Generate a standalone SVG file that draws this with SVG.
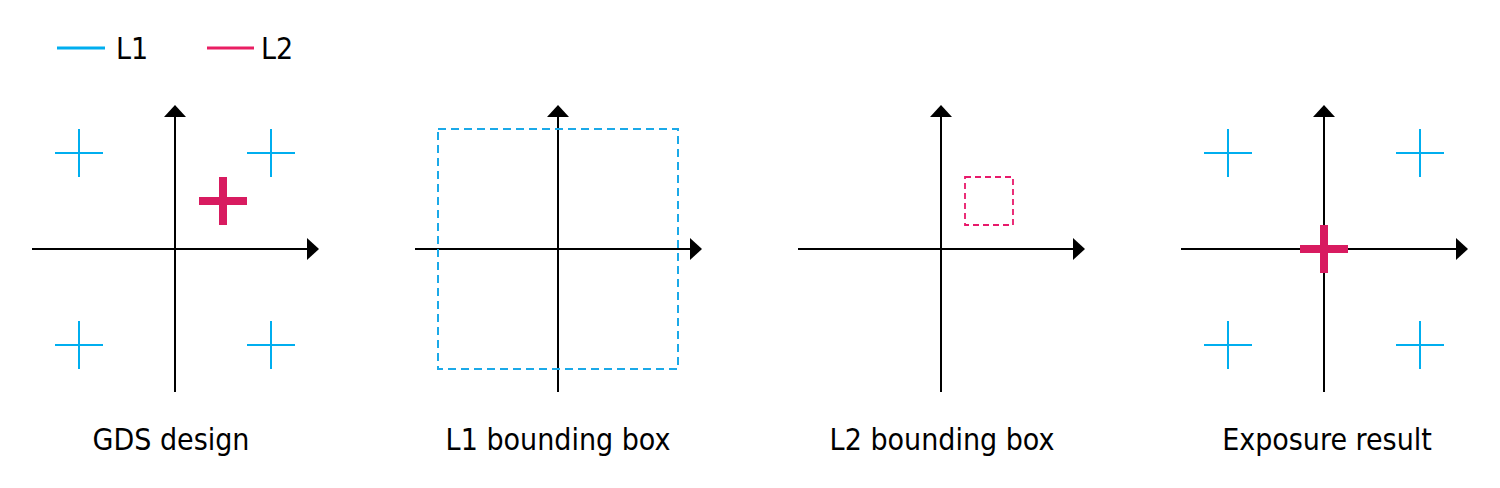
<svg xmlns="http://www.w3.org/2000/svg" width="1500" height="488" viewBox="0 0 1500 488">
<style>
.axis{stroke:#000;stroke-width:2;fill:none}
.l1{stroke:#00aeef;stroke-width:2;fill:none}
.l2{stroke:#d81b60;stroke-width:8;fill:none}
.b1{stroke:#1ba9e8;stroke-width:2;fill:none;stroke-dasharray:8 5}
.b2{stroke:#e8196b;stroke-width:1.8;fill:none;stroke-dasharray:6 4}
.t{font-family:"DejaVu Sans Condensed","DejaVu Sans",sans-serif;font-size:30px;fill:#000}
</style>
<defs>
<marker id="ah" viewBox="0 -11 12 22" refX="0" refY="0" markerWidth="12" markerHeight="22" markerUnits="userSpaceOnUse" orient="auto">
<path d="M0,-11 L12,0 L0,11 z" fill="#000"/>
</marker>
<g id="cross1">
<path class="l1" d="M-24,0 H24 M0,-24 V24"/>
</g>
<g id="cross2">
<path class="l2" d="M-24,0 H24 M0,-24 V24"/>
</g>
</defs>
<rect width="1500" height="488" fill="#fff"/>
<g id="legend">
<line x1="57" y1="48" x2="105" y2="48" stroke="#00aeef" stroke-width="3"/>
<text class="t" x="116" y="59">L1</text>
<line x1="207" y1="48" x2="254" y2="48" stroke="#e91e63" stroke-width="3"/>
<text class="t" x="261" y="59">L2</text>
</g>
<g id="connectors">
<path class="axis" d="M32,249 H307" marker-end="url(#ah)"/>
<path class="axis" d="M175,392 V117" marker-end="url(#ah)"/>
<path class="axis" d="M415,249 H690" marker-end="url(#ah)"/>
<path class="axis" d="M558,392 V117" marker-end="url(#ah)"/>
<path class="axis" d="M798,249 H1073" marker-end="url(#ah)"/>
<path class="axis" d="M941,392 V117" marker-end="url(#ah)"/>
<path class="axis" d="M1181,249 H1456" marker-end="url(#ah)"/>
<path class="axis" d="M1324,392 V117" marker-end="url(#ah)"/>
</g>
<g id="panel-gds">
<use href="#cross1" x="79" y="153"/>
<use href="#cross1" x="271" y="153"/>
<use href="#cross1" x="79" y="345"/>
<use href="#cross1" x="271" y="345"/>
<use href="#cross2" x="223" y="201"/>
<text class="t" x="171" y="450" text-anchor="middle">GDS design</text>
</g>
<g id="panel-l1box">
<rect class="b1" x="438" y="129" width="240" height="240"/>
<text class="t" x="558" y="450" text-anchor="middle">L1 bounding box</text>
</g>
<g id="panel-l2box">
<rect class="b2" x="965" y="177" width="48" height="48"/>
<text class="t" x="942" y="450" text-anchor="middle">L2 bounding box</text>
</g>
<g id="panel-exposure">
<use href="#cross1" x="1228" y="153"/>
<use href="#cross1" x="1420" y="153"/>
<use href="#cross1" x="1228" y="345"/>
<use href="#cross1" x="1420" y="345"/>
<use href="#cross2" x="1324" y="249"/>
<text class="t" x="1327" y="450" text-anchor="middle">Exposure result</text>
</g>
</svg>
